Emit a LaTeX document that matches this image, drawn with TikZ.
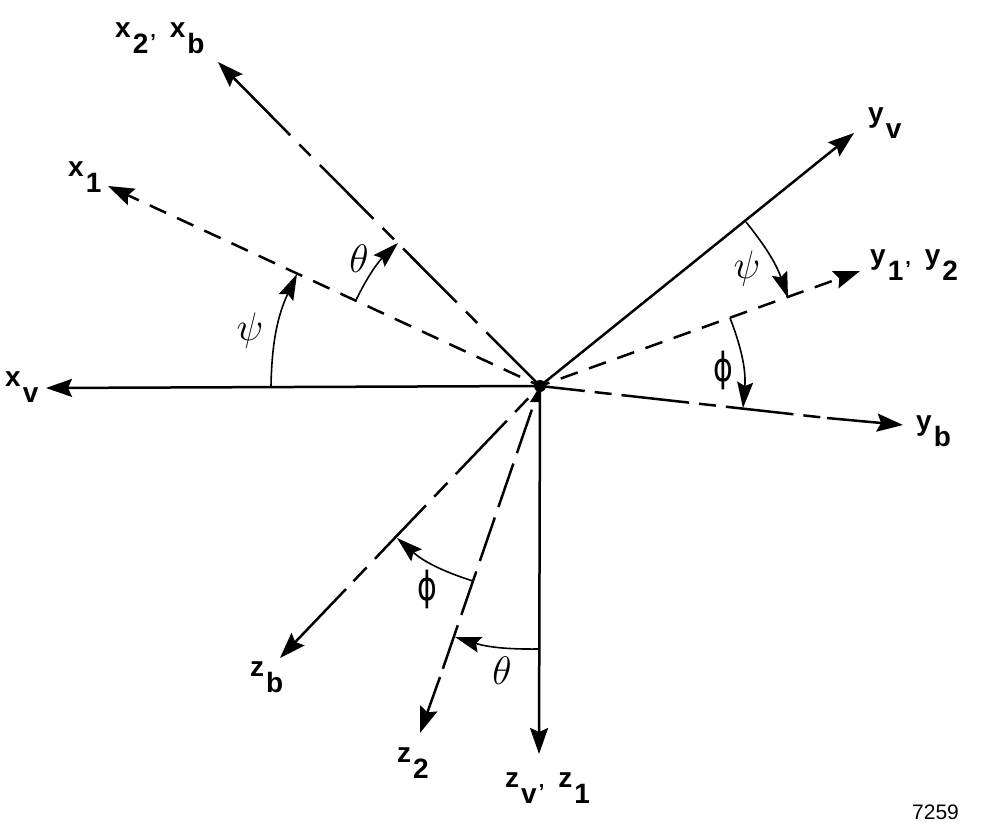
\documentclass[tikz,border=0pt]{standalone}
\usepackage{graphicx}
\usepackage{fontspec}
\setmainfont{Liberation Sans}
\newfontfamily\phifont{DejaVu Sans}
\usetikzlibrary{arrows.meta}
\newcommand{\sublow}[1]{\hspace{2pt}\raisebox{-16pt}{#1}}
\newcommand{\subgap}{\hspace{2pt}{\fontsize{20}{20}\selectfont ,}\hspace{14pt}}
\newcommand{\anglemark}[1]{\scalebox{1.6}{$#1$}}
\newcommand{\anglephi}{\scalebox{0.75}[1]{\phifont\mdseries\fontsize{40}{40}\selectfont ϕ}}
\begin{document}
\begin{tikzpicture}[x=1pt,y=-1pt]
\tikzstyle{every node}=[inner sep=0,anchor=base west,font=\bfseries\fontsize{28}{30}\selectfont];
\tikzstyle{axis}=[line width=2.5,-{Stealth[length=26,width=18,inset=4]}];
\tikzstyle{axisbit}=[line width=2.5];
\tikzstyle{sweep}=[line width=1.6,-{Stealth[length=26,width=16,inset=4]}];
\tikzstyle{angle}=[anchor=center];
\useasboundingbox (0,0) rectangle (1000,824);
\coordinate (o) at (540,386);
\coordinate (xvtip) at (46,388);
\coordinate (xatip) at (108,186);
\coordinate (xbtip) at (218,62);
\coordinate (xbmid) at (288,133);
\coordinate (yvtip) at (854,133);
\coordinate (yatip) at (860,271);
\coordinate (ybtip) at (903,425);
\coordinate (ybmid) at (827,418);
\coordinate (zvtip) at (539,754);
\coordinate (zbtip) at (280,658);
\coordinate (zbmid) at (346,589);
\coordinate (zctip) at (420,733);
\coordinate (zcmid) at (440,677);
\node (xb) at (115,38) {x\sublow{2}\subgap x\sublow{b}};
\node (xa) at (68,176) {x\sublow{1}};
\node (xv) at (5,386) {x\sublow{v}};
\node (yv) at (868,122) {y\sublow{v}};
\node (yb) at (870,264) {y\sublow{1}\subgap y\sublow{2}};
\node (yc) at (916,430) {y\sublow{b}};
\node (zb) at (250,676) {z\sublow{b}};
\node (zc) at (397,762) {z\sublow{2}};
\node (zv) at (505,787) {z\sublow{v}\subgap z\sublow{1}};
\node[font=\mdseries\fontsize{21}{21}\selectfont] (plate) at (912,819) {7259};
\node[angle] (pa) at (250,331) {\anglemark{\psi}};
\node[angle] (ta) at (359,259) {\anglemark{\theta}};
\node[angle] (pb) at (747,269) {\anglemark{\psi}};
\node[angle] (fa) at (723,370) {\anglephi};
\node[angle] (fb) at (427,589) {\anglephi};
\node[angle] (tb) at (502,671) {\anglemark{\theta}};
\coordinate (ba) at (530,402);
\coordinate (bb) at (540,402);
\fill (o) circle (6);
\fill (o) -- (ba) -- (bb) -- cycle;
\draw[axis] (o) -- (xvtip);
\draw[axis] (o) -- (yvtip);
\draw[axis] (o) -- (zvtip);
\draw[axis,dash pattern=on 18 off 12,dash phase=8] (o) -- (xatip);
\draw[axis,dash pattern=on 18 off 12,dash phase=8] (o) -- (yatip);
\draw[axisbit,dash pattern=on 76 off 13 on 16 off 13] (o) -- (xbmid);
\draw[axis] (xbmid) -- (xbtip);
\draw[axisbit,dash pattern=on 68 off 10 on 17 off 10,dash phase=23] (o) -- (ybmid);
\draw[axis] (ybmid) -- (ybtip);
\draw[axisbit,dash pattern=on 74 off 12 on 19 off 12,dash phase=69] (o) -- (zbmid);
\draw[axis] (zbmid) -- (zbtip);
\draw[axisbit,dash pattern=on 46 off 11,dash phase=32] (o) -- (zcmid);
\draw[axis] (zcmid) -- (zctip);
\coordinate (sa) at (271,386);
\coordinate (ea) at (297,274);
\coordinate (sb) at (356,300);
\coordinate (eb) at (398,243);
\coordinate (sc) at (746,222);
\coordinate (ec) at (788,298);
\coordinate (sd) at (730,318);
\coordinate (ed) at (743,408);
\coordinate (se) at (473,581);
\coordinate (ee) at (397,538);
\coordinate (sf) at (538,649);
\coordinate (ef) at (455,637);
\draw[sweep] (sa) to[bend left=12] (ea);
\draw[sweep] (sb) to[bend left=10] (eb);
\draw[sweep] (sc) to[bend left=10] (ec);
\draw[sweep] (sd) to[bend left=13] (ed);
\draw[sweep] (se) to[bend left=12] (ee);
\draw[sweep] (sf) to[bend left=9] (ef);
\end{tikzpicture}
\end{document}
